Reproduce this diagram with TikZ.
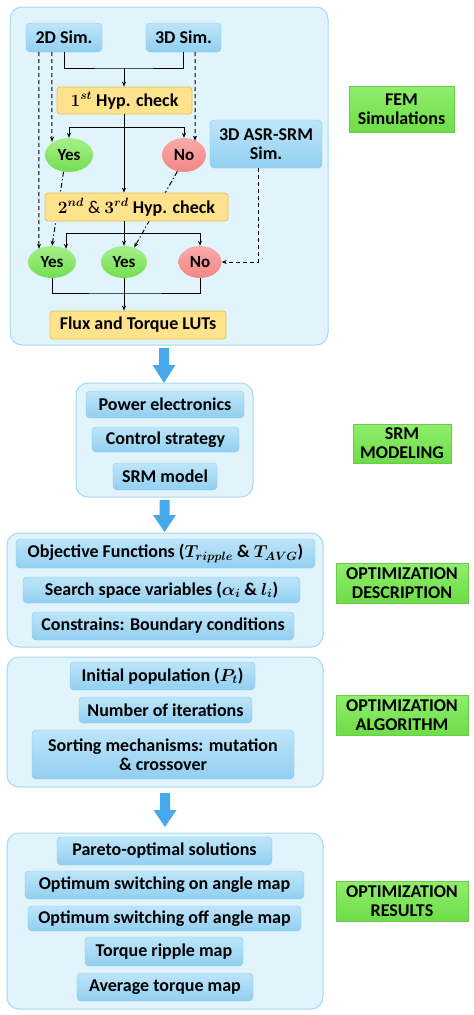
\documentclass[tikz,border=0pt]{standalone}
\usepackage{bm}
\usepackage{fontspec}
\setmainfont{Carlito}
\usetikzlibrary{shapes.geometric,arrows.meta,calc}
\definecolor{panelfill}{HTML}{E2F4FB}
\definecolor{panelline}{HTML}{A6D8EE}
\definecolor{blueA}{HTML}{BDE5F9}
\definecolor{blueB}{HTML}{92CFF1}
\definecolor{blueEdge}{HTML}{8CC8EA}
\definecolor{yel}{HTML}{FFE38C}
\definecolor{yelEdge}{HTML}{E2C15C}
\definecolor{greenA}{HTML}{A6F08A}
\definecolor{greenB}{HTML}{74DE50}
\definecolor{redA}{HTML}{FBA9A9}
\definecolor{redB}{HTML}{F28787}
\definecolor{labA}{HTML}{8FEE6C}
\definecolor{labB}{HTML}{6EDC48}
\definecolor{labEdge}{HTML}{6CCB4C}
\definecolor{arrowblue}{HTML}{47A9EC}
\tikzset{
  panel/.style={rounded corners=12pt, fill=panelfill, draw=panelline, line width=1pt},
  txt/.style={font=\bfseries\fontsize{18}{19}\selectfont, text=black, inner sep=0pt, align=center},
  bluebox/.style={txt, rectangle, rounded corners=4pt, top color=blueA, bottom color=blueB, draw=blueEdge, line width=0.4pt},
  ybox/.style={txt, rectangle, rounded corners=3pt, fill=yel, draw=yelEdge, line width=0.8pt},
  yesnode/.style={txt, ellipse, font=\bfseries\fontsize{17}{18}\selectfont, top color=greenA, bottom color=greenB, draw=none},
  nonode/.style={txt, ellipse, font=\bfseries\fontsize{17}{18}\selectfont, top color=redA, bottom color=redB, draw=none},
  glabel/.style={txt, rectangle, top color=labA, bottom color=labB, draw=labEdge, line width=0.6pt},
  conn/.style={line width=1pt, black},
  arrtip/.style={-{Stealth[length=5pt,width=4pt]}},
  dconn/.style={conn, dash pattern=on 4pt off 3pt},
  ddconn/.style={conn, dash pattern=on 5pt off 2.5pt on 1.2pt off 2.5pt},
}
\newcommand{\blockarrow}[4]{%
  \fill[arrowblue] (#1-5,#2) -- (#1+5,#2) -- (#1+5,#3) -- (#1+11.5,#3) -- (#1,#4) -- (#1-11.5,#3) -- (#1-5,#3) -- cycle;}
\begin{document}
\begin{tikzpicture}[x=1pt,y=-1pt]
\useasboundingbox (0,0) rectangle (474,1015);
% ---------- FEM panel ----------
\draw[panel] (10,7) rectangle (328,345);
\node[bluebox, minimum width=76pt, minimum height=29pt] (s2d) at (64,37.5) {2D Sim.};
\node[bluebox, minimum width=75pt, minimum height=29pt] (s3d) at (183.5,37.5) {3D Sim.};
\node[bluebox, minimum width=112pt, minimum height=48pt] (asr) at (266,144) {3D ASR-SRM\\Sim.};
\coordinate (j1) at (124,68);
\coordinate (b1) at (124,127);
\coordinate (b2) at (124,233);
\coordinate (j3) at (124,293);
\node[yesnode, minimum width=48pt, minimum height=34pt] (yes1) at (69,155) {Yes};
\node[nonode, minimum width=44pt, minimum height=34pt] (no1) at (184,155) {No};
\node[yesnode, minimum width=48pt, minimum height=32pt] (yesL) at (52,262) {Yes};
\node[yesnode, minimum width=46pt, minimum height=32pt] (yesM) at (124,262) {Yes};
\node[nonode, minimum width=43pt, minimum height=32pt] (noR) at (200,262) {No};
\draw[ddconn, arrtip] (yes1.-108) -- (yesL.north);
\draw[ddconn, arrtip] (no1.-112) -- (yesM.55);
\node[ybox, minimum width=135pt, minimum height=27pt] (hyp1) at (124.5,100.5) {$\bm{1^{st}}$ Hyp. check};
\node[ybox, minimum width=183pt, minimum height=28pt] (hyp2) at (136.5,207) {$\bm{2^{nd}}$ $\bm{\&}$ $\bm{3^{rd}}$ Hyp. check};
\node[ybox, minimum width=176pt, minimum height=28pt] (flux) at (138,325) {Flux and Torque LUTs};
% connectors
\draw[conn] (s2d.south) |- (j1) -| (s3d.south);
\draw[conn, arrtip] (j1) -- (j1 |- hyp1.north);
\draw[conn, arrtip] (b1 |- hyp1.south) -- (b1 |- hyp2.north);
\draw[conn, arrtip] (b1) -| (yes1.north);
\draw[conn, arrtip] (b1) -| (no1.north);
\draw[dconn, arrtip] ($(s2d.south west)+(13,0)$) -- ($(yesL.north)+(-13,3)$);
\draw[dconn, arrtip] ($(s2d.south west)+(26,0)$) -- ($(yes1.north)+(-17,4)$);
\draw[dconn, arrtip] ($(s3d.south east)+(-26,0)$) -- ($(no1.north)+(11,3)$);
\draw[conn, arrtip] (b2 |- hyp2.south) -- (yesM.north);
\draw[conn, arrtip] (b2) -| ($(yesL.north)+(14,3)$);
\draw[conn, arrtip] (b2) -| (noR.north);
\draw[dconn, arrtip] ($(asr.south)+(-8,0)$) |- (noR.east);
\draw[conn] (yesL.south) |- (j3) -| (noR.south);
\draw[conn, arrtip] (yesM.south) -- (yesM.south |- flux.north);
\node[glabel, minimum width=105pt, minimum height=46pt] (lfem) at (401.5,109) {FEM\\Simulations};
% ---------- arrow 1 ----------
\blockarrow{164}{348}{365}{383}
% ---------- SRM modeling ----------
\draw[panel] (76,383) rectangle (253,497);
\node[bluebox, minimum width=158pt, minimum height=27pt] (pe) at (165,404.5) {Power electronics};
\node[bluebox, minimum width=147pt, minimum height=25pt] (cs) at (165.5,439.5) {Control strategy};
\node[bluebox, minimum width=104pt, minimum height=27pt] (srm) at (165,476.5) {SRM model};
\node[glabel, minimum width=98pt, minimum height=39pt] (lsrm) at (402,443.5) {SRM\\MODELING};
\blockarrow{164.5}{500}{515}{532}
% ---------- Optimization description ----------
\draw[panel] (7,533) rectangle (323,647);
\node[bluebox, minimum width=299pt, minimum height=29pt] (obj) at (165.5,553.5) {Objective Functions ($\bm{T_{ripple}}$ \& $\bm{T_{AVG}}$)};
\node[bluebox, minimum width=277pt, minimum height=26pt] (ssv) at (161.5,590) {Search space variables ($\bm{\alpha_i}$ \& $\bm{l_i}$)};
\node[bluebox, minimum width=262pt, minimum height=28pt] (con) at (163,626) {Constrains: Boundary conditions};
\node[glabel, minimum width=132pt, minimum height=40pt] (ldesc) at (402,583) {OPTIMIZATION\\DESCRIPTION};
% ---------- Optimization algorithm ----------
\draw[panel] (7,657) rectangle (323,787);
\node[bluebox, minimum width=185pt, minimum height=28pt] (ip) at (162.5,676) {Initial population ($\bm{P_t}$)};
\node[bluebox, minimum width=173pt, minimum height=26pt] (ni) at (165.5,710) {Number of iterations};
\node[bluebox, minimum width=262pt, minimum height=49pt] (sm) at (163,754.5) {Sorting mechanisms: mutation\\\& crossover};
\node[glabel, minimum width=132pt, minimum height=40pt] (lalg) at (402,715) {OPTIMIZATION\\ALGORITHM};
\blockarrow{165}{793}{810}{827}
% ---------- Optimization results ----------
\draw[panel] (7,833) rectangle (323,1009);
\node[bluebox, minimum width=215pt, minimum height=28pt] (par) at (164.5,851) {Pareto-optimal solutions};
\node[bluebox, minimum width=279pt, minimum height=28pt] (on) at (164.5,885) {Optimum switching on angle map};
\node[bluebox, minimum width=273pt, minimum height=25pt] (off) at (164.5,918.5) {Optimum switching off angle map};
\node[bluebox, minimum width=158pt, minimum height=29pt] (tr) at (164,951.5) {Torque ripple map};
\node[bluebox, minimum width=176pt, minimum height=28pt] (at) at (165,987) {Average torque map};
\node[glabel, minimum width=132pt, minimum height=40pt] (lres) at (402,901) {OPTIMIZATION\\RESULTS};
\end{tikzpicture}
\end{document}
